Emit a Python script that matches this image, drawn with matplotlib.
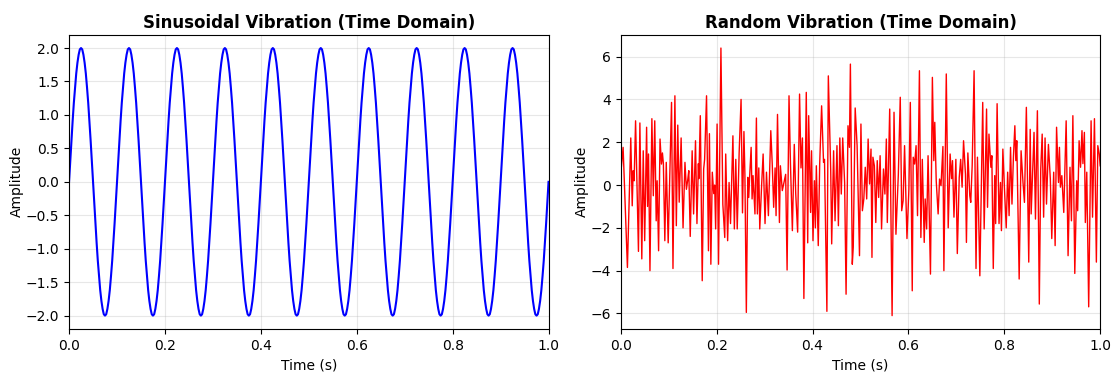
import matplotlib
matplotlib.use("Agg")
import matplotlib.pyplot as plt
import numpy as np

sine_t = np.linspace(0.0, 1.0, 401)
sine_amp = [
    0.00, 0.31, 0.62, 0.91, 1.18, 1.41, 1.62, 1.78, 1.90, 1.98, 2.00, 1.98, 1.90, 1.78, 1.62, 1.41, 1.18, 0.91, 0.62, 0.31,
    0.00, -0.31, -0.62, -0.91, -1.18, -1.41, -1.62, -1.78, -1.90, -1.98, -2.00, -1.98, -1.90, -1.78, -1.62, -1.41, -1.18, -0.91, -0.62, -0.31,
    0.00, 0.31, 0.62, 0.91, 1.18, 1.41, 1.62, 1.78, 1.90, 1.98, 2.00, 1.98, 1.90, 1.78, 1.62, 1.41, 1.18, 0.91, 0.62, 0.31,
    0.00, -0.31, -0.62, -0.91, -1.18, -1.41, -1.62, -1.78, -1.90, -1.98, -2.00, -1.98, -1.90, -1.78, -1.62, -1.41, -1.18, -0.91, -0.62, -0.31,
    0.00, 0.31, 0.62, 0.91, 1.18, 1.41, 1.62, 1.78, 1.90, 1.98, 2.00, 1.98, 1.90, 1.78, 1.62, 1.41, 1.18, 0.91, 0.62, 0.31,
    0.00, -0.31, -0.62, -0.91, -1.18, -1.41, -1.62, -1.78, -1.90, -1.98, -2.00, -1.98, -1.90, -1.78, -1.62, -1.41, -1.18, -0.91, -0.62, -0.31,
    0.00, 0.31, 0.62, 0.91, 1.18, 1.41, 1.62, 1.78, 1.90, 1.98, 2.00, 1.98, 1.90, 1.78, 1.62, 1.41, 1.18, 0.91, 0.62, 0.31,
    0.00, -0.31, -0.62, -0.91, -1.18, -1.41, -1.62, -1.78, -1.90, -1.98, -2.00, -1.98, -1.90, -1.78, -1.62, -1.41, -1.18, -0.91, -0.62, -0.31,
    0.00, 0.31, 0.62, 0.91, 1.18, 1.41, 1.62, 1.78, 1.90, 1.98, 2.00, 1.98, 1.90, 1.78, 1.62, 1.41, 1.18, 0.91, 0.62, 0.31,
    0.00, -0.31, -0.62, -0.91, -1.18, -1.41, -1.62, -1.78, -1.90, -1.98, -2.00, -1.98, -1.90, -1.78, -1.62, -1.41, -1.18, -0.91, -0.62, -0.31,
    0.00, 0.31, 0.62, 0.91, 1.18, 1.41, 1.62, 1.78, 1.90, 1.98, 2.00, 1.98, 1.90, 1.78, 1.62, 1.41, 1.18, 0.91, 0.62, 0.31,
    0.00, -0.31, -0.62, -0.91, -1.18, -1.41, -1.62, -1.78, -1.90, -1.98, -2.00, -1.98, -1.90, -1.78, -1.62, -1.41, -1.18, -0.91, -0.62, -0.31,
    0.00, 0.31, 0.62, 0.91, 1.18, 1.41, 1.62, 1.78, 1.90, 1.98, 2.00, 1.98, 1.90, 1.78, 1.62, 1.41, 1.18, 0.91, 0.62, 0.31,
    0.00, -0.31, -0.62, -0.91, -1.18, -1.41, -1.62, -1.78, -1.90, -1.98, -2.00, -1.98, -1.90, -1.78, -1.62, -1.41, -1.18, -0.91, -0.62, -0.31,
    0.00, 0.31, 0.62, 0.91, 1.18, 1.41, 1.62, 1.78, 1.90, 1.98, 2.00, 1.98, 1.90, 1.78, 1.62, 1.41, 1.18, 0.91, 0.62, 0.31,
    0.00, -0.31, -0.62, -0.91, -1.18, -1.41, -1.62, -1.78, -1.90, -1.98, -2.00, -1.98, -1.90, -1.78, -1.62, -1.41, -1.18, -0.91, -0.62, -0.31,
    0.00, 0.31, 0.62, 0.91, 1.18, 1.41, 1.62, 1.78, 1.90, 1.98, 2.00, 1.98, 1.90, 1.78, 1.62, 1.41, 1.18, 0.91, 0.62, 0.31,
    0.00, -0.31, -0.62, -0.91, -1.18, -1.41, -1.62, -1.78, -1.90, -1.98, -2.00, -1.98, -1.90, -1.78, -1.62, -1.41, -1.18, -0.91, -0.62, -0.31,
    0.00, 0.31, 0.62, 0.91, 1.18, 1.41, 1.62, 1.78, 1.90, 1.98, 2.00, 1.98, 1.90, 1.78, 1.62, 1.41, 1.18, 0.91, 0.62, 0.31,
    0.00, -0.31, -0.62, -0.91, -1.18, -1.41, -1.62, -1.78, -1.90, -1.98, -2.00, -1.98, -1.90, -1.78, -1.62, -1.41, -1.18, -0.91, -0.62, -0.31,
    0.00,
]

# random vibration, peaks and troughs
rand_t = [
    0.000, 0.005, 0.014, 0.021, 0.024, 0.026, 0.028, 0.031, 0.037, 0.040, 0.044, 0.047, 0.050, 0.054, 0.056, 0.058,
    0.061, 0.065, 0.068, 0.071, 0.074, 0.076, 0.079, 0.082, 0.085, 0.087, 0.089, 0.092, 0.095, 0.099, 0.106, 0.109,
    0.113, 0.116, 0.119, 0.122, 0.126, 0.130, 0.134, 0.137, 0.140, 0.142, 0.145, 0.149, 0.152, 0.156, 0.159, 0.162,
    0.163, 0.166, 0.170, 0.173, 0.175, 0.179, 0.183, 0.185, 0.188, 0.191, 0.194, 0.196, 0.198, 0.201, 0.204, 0.209,
    0.213, 0.217, 0.219, 0.223, 0.226, 0.229, 0.234, 0.237, 0.240, 0.243, 0.247, 0.251, 0.254, 0.257, 0.259, 0.262,
    0.265, 0.267, 0.269, 0.272, 0.274, 0.276, 0.280, 0.283, 0.285, 0.288, 0.290, 0.294, 0.297, 0.301, 0.304, 0.308,
    0.313, 0.316, 0.319, 0.322, 0.324, 0.327, 0.331, 0.333, 0.337, 0.344, 0.347, 0.351, 0.354, 0.358, 0.362, 0.365,
    0.369, 0.373, 0.376, 0.379, 0.382, 0.387, 0.390, 0.392, 0.396, 0.398, 0.401, 0.404, 0.406, 0.408, 0.412, 0.415,
    0.419, 0.423, 0.425, 0.430, 0.433, 0.438, 0.440, 0.444, 0.447, 0.451, 0.454, 0.457, 0.460, 0.463, 0.467, 0.470,
    0.474, 0.477, 0.479, 0.483, 0.485, 0.489, 0.493, 0.498, 0.501, 0.504, 0.507, 0.510, 0.513, 0.516, 0.519, 0.522,
    0.524, 0.526, 0.529, 0.532, 0.535, 0.538, 0.541, 0.544, 0.548, 0.551, 0.554, 0.556, 0.561, 0.566, 0.570, 0.574,
    0.579, 0.583, 0.586, 0.589, 0.592, 0.597, 0.601, 0.604, 0.608, 0.610, 0.613, 0.616, 0.619, 0.623, 0.626, 0.629,
    0.633, 0.635, 0.638, 0.641, 0.646, 0.650, 0.653, 0.655, 0.658, 0.662, 0.665, 0.668, 0.672, 0.674, 0.679, 0.683,
    0.687, 0.690, 0.692, 0.695, 0.699, 0.702, 0.706, 0.709, 0.712, 0.715, 0.719, 0.721, 0.724, 0.728, 0.730, 0.733,
    0.737, 0.741, 0.744, 0.749, 0.755, 0.758, 0.763, 0.765, 0.768, 0.772, 0.774, 0.777, 0.780, 0.782, 0.785, 0.789,
    0.792, 0.794, 0.797, 0.800, 0.804, 0.807, 0.810, 0.813, 0.816, 0.819, 0.822, 0.824, 0.826, 0.831, 0.835, 0.839,
    0.842, 0.846, 0.851, 0.854, 0.856, 0.862, 0.865, 0.869, 0.873, 0.876, 0.879, 0.882, 0.885, 0.888, 0.892, 0.896,
    0.899, 0.903, 0.906, 0.909, 0.913, 0.915, 0.917, 0.920, 0.924, 0.929, 0.933, 0.937, 0.940, 0.943, 0.947, 0.951,
    0.953, 0.956, 0.959, 0.962, 0.964, 0.967, 0.969, 0.972, 0.976, 0.981, 0.984, 0.988, 0.992, 0.995, 0.998, 1.000,
]
rand_amp = [
    0.5, 1.76, -3.85, 2.2, -0.97, 0.67, 0.2, 3.0, -3.1, 2.9, -3.45, 1.6, -2.6, 2.7, -1.0, 1.45,
    -4.0, 3.1, -0.5, 3.0, -1.67, 0.2, -3.07, 2.15, 0.98, 1.5, 1.0, -2.6, 1.06, -2.7, 3.86, -3.9,
    4.17, -1.9, 2.8, -0.8, 2.2, -2.0, 1.06, -0.2, 0.28, 0.67, -2.4, 1.6, -1.35, 2.07, -1.8, 1.0,
    0.3, 3.24, -4.47, 0.75, 1.2, 4.17, -3.07, 2.4, -3.7, 0.6, -0.4, 0.0, -2.05, 2.85, -3.7, 6.4,
    -0.9, -2.45, 1.45, -2.6, 0.12, -1.8, 2.3, -2.05, 1.2, -2.05, 1.5, 4.0, -1.3, 2.5, 0.5, -5.95,
    0.36, -0.58, 0.44, 1.76, -0.65, 0.44, -1.35, 3.13, -1.35, 0.8, -2.05, 0.05, 1.45, -1.8, 0.6, -1.43,
    2.54, 1.0, -1.04, 0.8, -1.43, 3.3, -1.75, 0.9, -0.26, 0.5, -3.97, 4.17, 1.0, -2.13, 1.9, -0.4,
    -2.2, 4.25, 0.8, 2.2, -5.3, 4.33, -2.7, 3.24, -1.28, 1.6, -2.6, 0.2, -2.0, 0.9, -2.83, 1.0,
    3.7, 1.06, 1.2, -5.9, 5.1, 0.67, -2.75, 1.6, -1.67, 1.84, -1.9, 2.2, -0.42, 2.2, 0.1, -5.1,
    2.77, 1.76, 5.65, -3.7, -2.9, 3.6, 1.84, -3.3, 2.85, -1.2, -0.65, 0.83, -0.65, 2.15, 0.05, 1.68,
    -3.38, 1.3, 0.9, -1.75, 1.14, -0.58, 1.37, -2.05, 0.75, -0.42, 2.15, -1.75, 3.55, -6.1, 3.4, -2.3,
    0.5, 4.1, -1.2, -0.73, 1.84, -2.5, -0.2, 3.86, -4.94, 1.3, 0.98, 1.84, -1.43, 5.34, -2.45, 1.2,
    -2.68, -0.65, -2.05, 1.37, -4.16, 5.03, 1.14, 2.93, 0.2, -1.35, 0.28, -0.03, 1.8, -4.0, 5.19, -2.0,
    1.45, 0.3, 1.14, -1.5, 1.2, -3.2, 0.35, 1.2, -0.1, 2.07, 0.5, -2.68, 1.5, -0.5, -0.81, 0.9,
    5.34, -3.9, 1.3, -4.24, 3.86, -2.05, 3.55, -1.04, 2.38, 0.83, 1.37, -3.9, 0.44, -1.8, 3.8, -1.8,
    0.12, -2.13, 1.68, 0.0, -2.0, 0.6, -1.43, 1.76, -0.89, 1.3, 2.77, 1.14, 2.07, -4.39, 1.6, 0.12,
    -0.81, 3.63, -3.6, 2.6, -1.35, 2.46, -1.59, 3.47, -5.56, 0.75, 2.38, -1.5, 2.2, -0.89, 1.9, 0.28,
    -2.5, 0.6, -2.83, 2.7, 0.12, 1.76, -0.1, 0.44, -1.28, 3.0, -3.3, 0.83, -1.67, 3.24, -4.13, 0.2,
    -1.2, 2.07, 0.83, 2.54, 1.0, 2.46, -1.75, 0.6, -5.69, 3.0, -1.5, 3.1, -3.6, 1.84, 1.45, 0.9,
]

fig = plt.figure(figsize=(11.19, 3.81), dpi=100)
ax1 = fig.add_axes([0.0617, 0.1365, 0.4285, 0.7725])
ax2 = fig.add_axes([0.5547, 0.1365, 0.4285, 0.7725])

ax1.plot(sine_t, sine_amp, color='blue', linewidth=1.5)
ax1.set_title('Sinusoidal Vibration (Time Domain)', fontweight='bold', fontsize=12, pad=5)
ax1.set_xlabel('Time (s)')
ax1.set_ylabel('Amplitude', labelpad=1)
ax1.set_xlim(0, 1)
ax1.grid(True, alpha=0.3)

ax2.plot(rand_t, rand_amp, color='red', linewidth=1.0)
ax2.set_title('Random Vibration (Time Domain)', fontweight='bold', fontsize=12, pad=5)
ax2.set_xlabel('Time (s)')
ax2.set_ylabel('Amplitude', labelpad=1)
ax2.set_xlim(0, 1)
ax2.grid(True, alpha=0.3)

fig.savefig('out.png', dpi=100)
